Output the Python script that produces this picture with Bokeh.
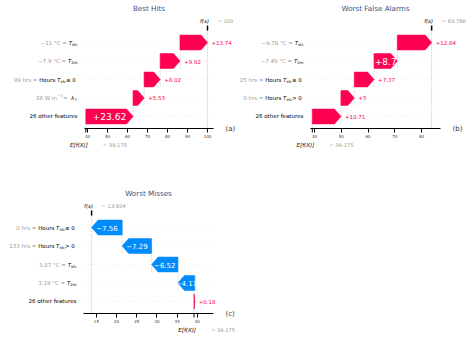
import re
from bokeh.plotting import figure
from bokeh.models import Label, FixedTicker, Range1d
from bokeh.layouts import column, row
from bokeh.embed import file_html
from bokeh.resources import INLINE

# ---------------- data ----------------
BASE = 39.175

a_title = "Best Hits"
a_values = [23.62, 5.53, 8.02, 9.92, 13.74]            # bottom -> top
a_feat_vals = ["", "26 W m^{−2}", "99 hrs", "−7.9 °C", "−11 °C"]
a_feat_names = ["26 other features", "λ_{↑}", "Hours T_{sfc} ≤ 0", "T_{2m}", "T_{sfc}"]
a_fx = 100
a_ticks = [40, 50, 60, 70, 80, 90, 100]
a_inside = [True, False, False, False, False]

b_title = "Worst False Alarms"
b_values = [10.71, 5, 7.37, 8.7, 12.84]
b_feat_vals = ["", "0 hrs", "25 hrs", "−7.49 °C", "−9.78 °C"]
b_feat_names = ["26 other features", "Hours T_{sfc} > 0", "Hours T_{sfc} ≤ 0", "T_{2m}", "T_{sfc}"]
b_fx = 83.786
b_ticks = [40, 50, 60, 70, 80]
b_inside = [False, False, False, True, False]

c_title = "Worst Misses"
c_values = [0.18, -4.17, -6.52, -7.29, -7.56]
c_feat_vals = ["", "3.19 °C", "3.07 °C", "133 hrs", "0 hrs"]
c_feat_names = ["26 other features", "T_{2m}", "T_{sfc}", "Hours T_{sfc} > 0", "Hours T_{sfc} ≤ 0"]
c_fx = 13.804
c_ticks = [15, 20, 25, 30, 35, 40]
c_inside = [False, True, True, True, True]

# ---------------- style ----------------
FONT = "DejaVu Sans"
RED = "#ff0051"
BLUE = "#008bfb"
GRAY = "#999999"
TITLE_COLOR = "#34568b"
W = 237
LBL_FS = 5.5

CW = {' ': .318, '+': .838, '−': .838, '=': .838, '≤': .838, '>': .838, '.': .318,
      '°': .5, 'C': .698, 'W': .989, 'm': .974, 'h': .634, 'r': .411, 's': .521,
      'H': .752, 'o': .612, 'u': .634, 'T': .611, 'f': .352, 'c': .55, 'λ': .594,
      '↑': .838, 'e': .615, 't': .392, 'a': .613, 'i': .278, 'n': .634, 'l': .278}
for d in "0123456789":
    CW[d] = .636


def tw(s, size):
    return sum(CW.get(ch, 0.6) for ch in s) * size


def parse(s):
    segs = []
    pos = 0
    for m in re.finditer(r'(\S)_\{([^}]*)\}|\^\{([^}]*)\}', s):
        if m.start() > pos:
            segs.append((s[pos:m.start()], 'n'))
        if m.group(1):
            segs.append((m.group(1), 'i'))
            segs.append((m.group(2), 'sub'))
        else:
            segs.append((m.group(3), 'sup'))
        pos = m.end()
    if pos < len(s):
        segs.append((s[pos:], 'n'))
    return segs


def fmt(v):
    s = "%+0.2f" % v
    s = s.rstrip('0').rstrip('.')
    return s.replace('-', '−')


def lab(p, **kw):
    kw.setdefault("text_font", FONT)
    kw.setdefault("text_baseline", "middle")
    p.add_layout(Label(**kw))


def make_panel(title, tag, values, feat_vals, feat_names, fx, ticks, inside,
               xlim, px_lr, inside_fs, H):
    ylim = (-0.65, 4.65)
    top_px, bot_px = 30, 128
    L, R = px_lr
    ppx = (R - L) / (xlim[1] - xlim[0])
    ppy = (bot_px - top_px) / (ylim[1] - ylim[0])
    x0 = xlim[0] - L / ppx
    x1 = x0 + W / ppx
    y1 = ylim[1] + top_px / ppy
    y0 = y1 - H / ppy

    p = figure(width=W, height=H, x_range=Range1d(x0, x1), y_range=Range1d(y0, y1),
               toolbar_location=None, output_backend="svg", y_axis_location=None,
               min_border=0, min_border_left=0, min_border_right=0,
               min_border_top=0, min_border_bottom=0)
    p.outline_line_color = None
    p.xgrid.visible = False
    p.ygrid.visible = False

    ax = p.xaxis[0]
    ax.fixed_location = ylim[0]
    ax.bounds = xlim
    ax.ticker = FixedTicker(ticks=ticks)
    ax.axis_line_color = "black"
    ax.axis_line_width = 1.2
    ax.major_tick_in = 0
    ax.major_tick_out = 4
    ax.major_tick_line_color = "black"
    ax.major_tick_line_width = 1
    ax.minor_tick_line_color = None
    ax.major_label_text_font = FONT
    ax.major_label_text_font_size = "4px"
    ax.major_label_text_color = "#333333"
    ax.major_label_standoff = 2

    head = 6.5 / ppx
    n = len(values)

    # dotted row lines
    p.segment(x0=[xlim[0]] * n, y0=list(range(n)), x1=[xlim[1]] * n, y1=list(range(n)),
              line_color="#cccccc", line_width=0.5, line_dash="1 4")
    # f(x) line and E[f(X)] line
    p.segment(x0=[fx], y0=[ylim[0]], x1=[fx], y1=[ylim[1]],
              line_color="#bbbbbb", line_width=0.6, line_dash="2 1")
    p.segment(x0=[BASE], y0=[ylim[0]], x1=[BASE], y1=[ylim[0] + (ylim[1] - ylim[0]) / 5],
              line_color="#bbbbbb", line_width=0.6, line_dash="2 1")
    # f(x) tick on top, E[f(X)] tick at bottom
    p.segment(x0=[fx], y0=[ylim[1]], x1=[fx], y1=[ylim[1] + 5 / ppy],
              line_color="black", line_width=1.5)
    p.segment(x0=[BASE], y0=[ylim[0]], x1=[BASE], y1=[ylim[0] - 4 / ppy],
              line_color="black", line_width=1)

    xs, ys, cols = [], [], []
    cx, cy0, cy1 = [], [], []
    cum = BASE
    for i, v in enumerate(values):
        s = cum
        e = cum + v
        hl = min(head, abs(v))
        d = 1 if v > 0 else -1
        xs.append([s, s, e - d * hl, e, e - d * hl])
        ys.append([i - 0.4, i + 0.4, i + 0.4, i, i - 0.4])
        cols.append(RED if v > 0 else BLUE)
        if i > 0:
            cx.append(s)
            cy0.append(i - 1 - 0.4)
            cy1.append(i + 0.4)
        cum = e

    p.segment(x0=cx, y0=cy0, x1=cx, y1=cy1, line_color="#bbbbbb",
              line_width=0.5, line_dash="2 1")
    p.patches(xs=xs, ys=ys, fill_color=cols, line_color=cols, line_width=0.6)

    # value texts
    cum = BASE
    for i, v in enumerate(values):
        s = cum
        e = cum + v
        d = 1 if v > 0 else -1
        txt = fmt(v)
        if inside[i]:
            lab(p, x=s + v / 2, y=i, text=txt, text_align="center",
                text_color="white", text_font_size=f"{inside_fs}px")
        else:
            lab(p, x=e, y=i, x_offset=4 * d, text=txt,
                text_align="left" if d > 0 else "right",
                text_color=RED if v > 0 else BLUE, text_font_size=f"{LBL_FS}px")
        cum = e

    # feature labels (left)
    for i, (fv, fn) in enumerate(zip(feat_vals, feat_names)):
        segs = []
        if fv:
            segs += [(t, k, GRAY) for t, k in parse(fv + " = ")]
        segs += [(t, k, "black") for t, k in parse(fn)]
        widths = []
        for t, k, c in segs:
            fs = LBL_FS * 0.7 if k in ("sub", "sup") else LBL_FS
            widths.append(tw(t, fs))
        off = -7 - sum(widths)
        for (t, k, c), wdt in zip(segs, widths):
            fs = LBL_FS * 0.7 if k in ("sub", "sup") else LBL_FS
            dy = -1.5 if k == "sub" else (2 if k == "sup" else 0)
            lab(p, x=xlim[0], y=i, x_offset=off, y_offset=dy, text=t,
                text_align="left", text_color=c, text_font_size=f"{fs:.2f}px",
                text_font_style="italic" if k == "i" else "normal")
            off += wdt

    # title
    lab(p, x=(xlim[0] + xlim[1]) / 2, y=ylim[1], y_offset=22, text=title,
        text_align="center", text_color=TITLE_COLOR, text_font_size="7.2px")
    # f(x) labels
    lab(p, x=fx, y=ylim[1], x_offset=-3, y_offset=10, text="f(x)",
        text_align="center", text_color="black", text_font_size="5.2px",
        text_font_style="italic")
    lab(p, x=fx, y=ylim[1], x_offset=10, y_offset=10, text="= " + ("%g" % fx),
        text_align="left", text_color=GRAY, text_font_size="5.2px")
    # E[f(X)] labels
    lab(p, x=BASE, y=ylim[0], x_offset=2, y_offset=-16, text="E[f(X)]",
        text_align="right", text_color="black", text_font_size="5.5px",
        text_font_style="italic")
    lab(p, x=BASE, y=ylim[0], x_offset=17, y_offset=-16, text="= " + ("%g" % BASE),
        text_align="left", text_color=GRAY, text_font_size="5.2px")
    # panel tag
    lab(p, x=xlim[1], y=ylim[0], x_offset=12, text=tag, text_align="left",
        text_color="#333333", text_font_size="7px")
    return p


pa = make_panel(a_title, "(a)", a_values, a_feat_vals, a_feat_names, a_fx, a_ticks,
                a_inside, (38.5, 103.0), (84, 213), 9.2, 185)
pb = make_panel(b_title, "(b)", b_values, b_feat_vals, b_feat_names, b_fx, b_ticks,
                b_inside, (38.5, 87.1), (73, 203), 9.0, 185)
pc = make_panel(c_title, "(c)", c_values, c_feat_vals, c_feat_names, c_fx, c_ticks,
                c_inside, (11.8, 44.0), (83, 213), 7.0, 153)

layout = column(row(pa, pb), pc)
open("out.html", "w").write(file_html(layout, INLINE))
